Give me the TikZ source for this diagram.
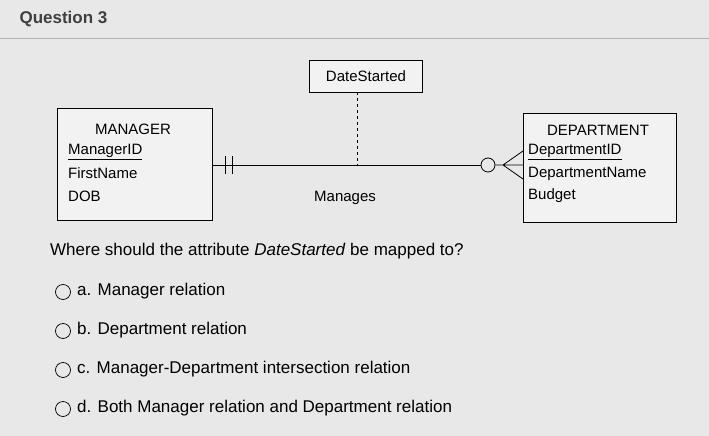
\documentclass[tikz,border=0pt]{standalone}
\usepackage{fontspec}
\setmainfont{Liberation Sans}
\begin{document}
\begin{tikzpicture}[x=1pt,y=-1pt,
  ent/.style={draw,line width=0.9pt,fill=gray!10},
  t/.style={anchor=west,font=\fontsize{17}{19}\selectfont,inner sep=0pt},
  s/.style={anchor=west,font=\fontsize{15}{17}\selectfont,inner sep=0pt},
  radio/.style={draw,circle,minimum size=15pt,inner sep=0pt,line width=0.7pt}]
\fill[gray!18] (0,0) rectangle (709,436);
\useasboundingbox (0,0) rectangle (709,436);
\node[anchor=west,font=\bfseries\fontsize{17}{19}\selectfont,text=black!75] (q) at (16,19) {Question 3};
\draw[gray!60] (0,38) -- (709,38);
% boxes
\draw[ent] (57,108) rectangle (212,220);
\draw[ent] (523,113) rectangle (676,222);
\node[draw,line width=0.9pt,minimum width=113pt,minimum height=32pt,fill=gray!10,font=\fontsize{15}{17}\selectfont] (ds) at (366,76) {DateStarted};
\coordinate (dsb) at (357,92);
\node[font=\fontsize{15}{17}\selectfont] (mh) at (133,129) {MANAGER};
\node[s] (m1) at (68,152) {\underline{ManagerID}};
\node[s] (m2) at (68,173) {FirstName};
\node[s] (m3) at (68,196) {DOB};
\node[font=\fontsize{15}{17}\selectfont] (dh) at (598,130) {DEPARTMENT};
\node[s] (d1) at (528,152) {\underline{DepartmentID}};
\node[s] (d2) at (528,174) {DepartmentName};
\node[s] (d3) at (528,196) {Budget};
\node[s] (mg) at (314,198) {Manages};
% relationship
\coordinate (ml) at (212,165);
\coordinate (dl) at (523,165);
\coordinate (mid) at (357,165);
\draw[line width=0.8pt] (ml) -- (481,165);
\draw[line width=0.8pt] (225,156) -- (225,174) (232,156) -- (232,174);
\node[draw,circle,minimum size=14pt,inner sep=0pt,line width=0.8pt] (c) at (488,165) {};
\draw[line width=0.8pt] (c.east) -- (dl) (503,165) -- (523,151) (503,165) -- (523,179);
\draw[line width=0.9pt,dashed] (dsb) -- (mid);
% question
\node[t] (qt) at (50,251) {Where should the attribute \textit{DateStarted} be mapped to?};
\node[radio] (ra) at (63,292) {}; \node[t] at (77,291) {a. Manager relation};
\node[radio] (rb) at (63,331) {}; \node[t] at (77,330) {b. Department relation};
\node[radio] (rc) at (63,370) {}; \node[t] at (77,369) {c. Manager-Department intersection relation};
\node[radio] (rd) at (63,409) {}; \node[t] at (77,408) {d. Both Manager relation and Department relation};
\end{tikzpicture}
\end{document}
